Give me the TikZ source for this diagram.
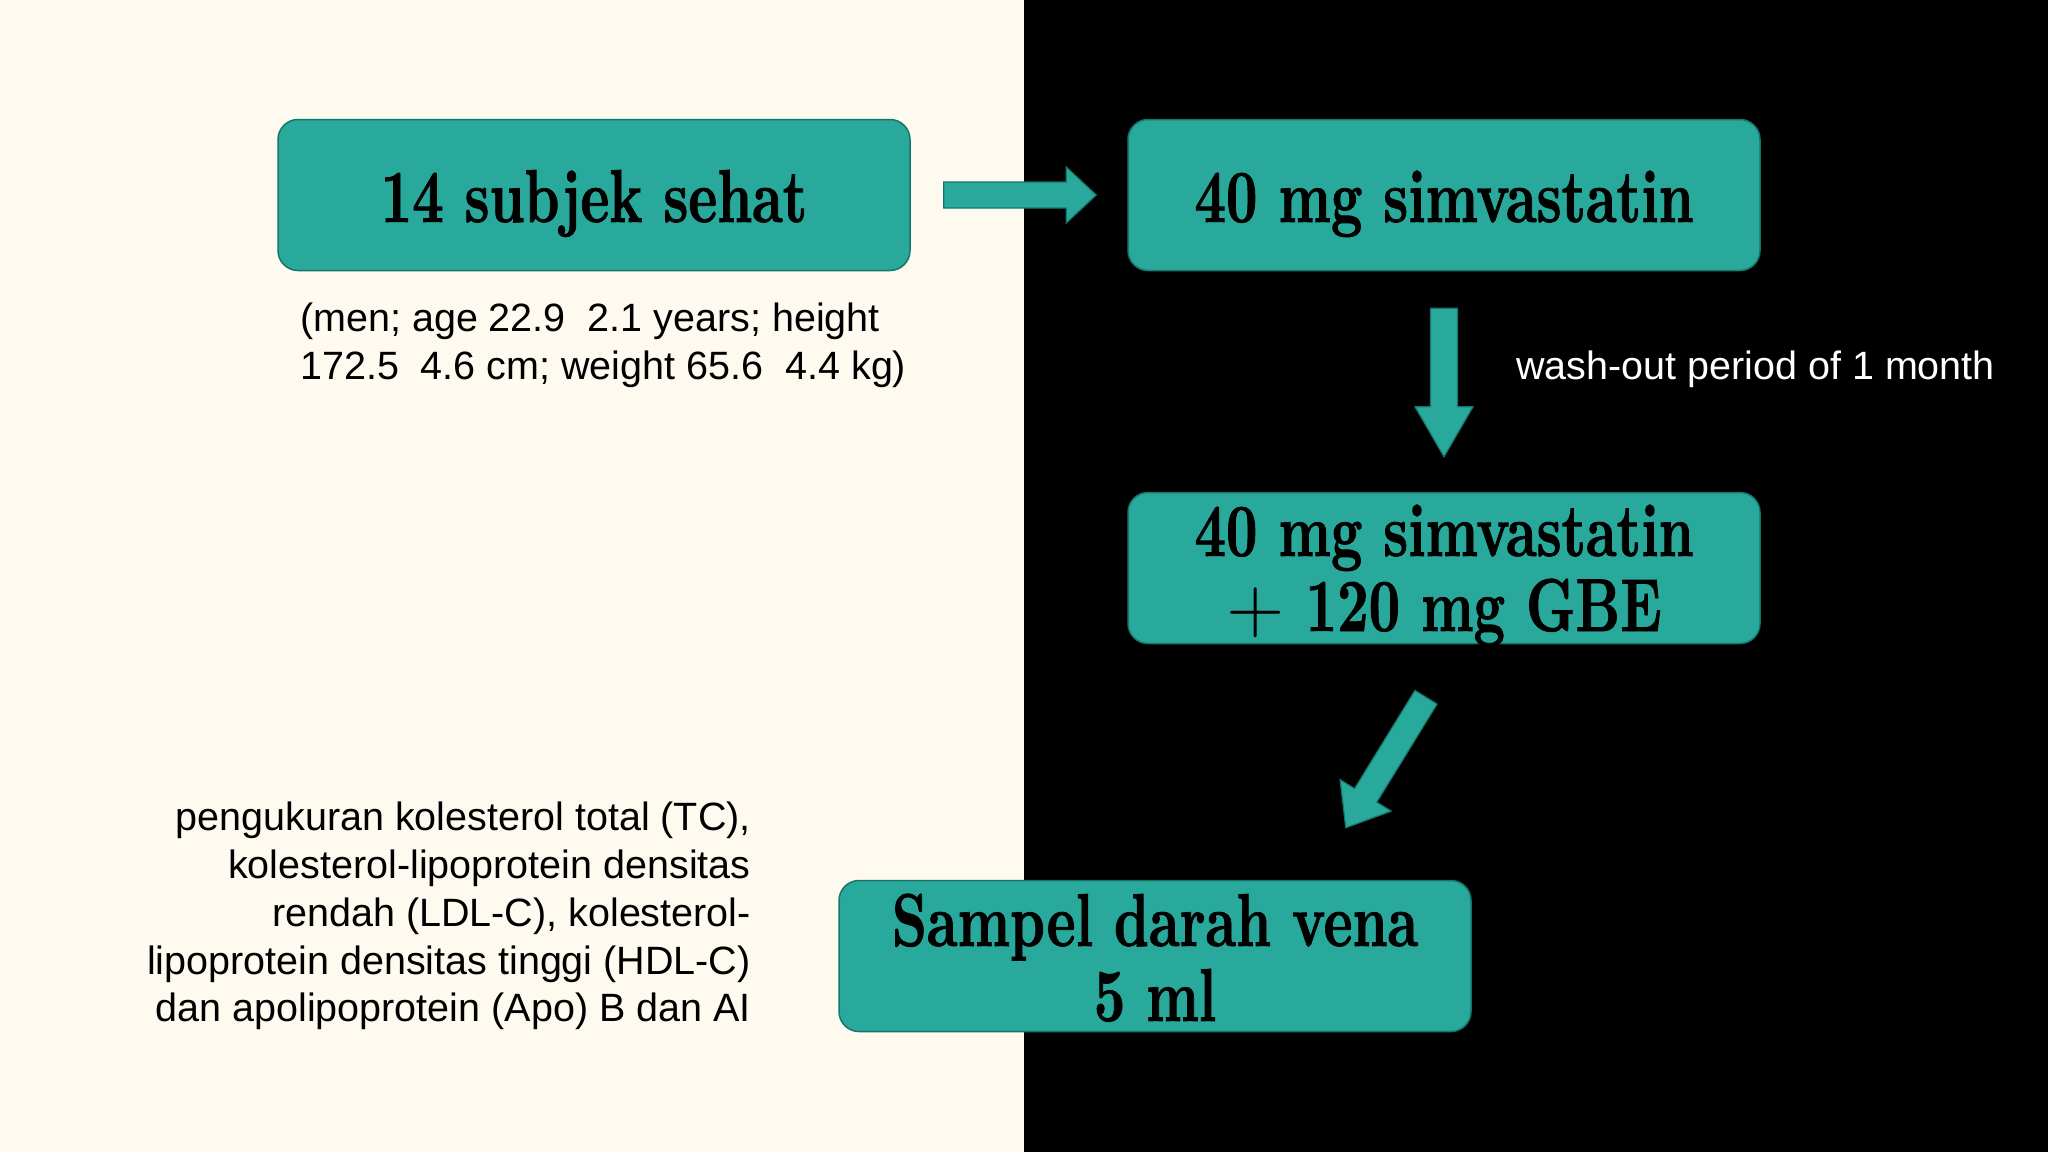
\documentclass[tikz,border=0pt]{standalone}
\usepackage{fontspec}
\setsansfont{Liberation Sans}
\newfontfamily\boxfont[FakeStretch=0.73, FakeBold=1]{lmroman10-bold.otf}
\newfontfamily\plusfont{lmroman10-regular.otf}
\usetikzlibrary{calc}
\definecolor{cream}{HTML}{FFFAF0}
\definecolor{teal1}{HTML}{28A99B}
\definecolor{tealline}{HTML}{17766B}
\tikzset{
  stepbox/.style={draw=tealline, line width=1.5pt, fill=teal1, rounded corners=20pt,
    minimum width=632pt, minimum height=151pt, inner sep=0pt},
  boxtext/.style={anchor=base, align=center, inner sep=0pt,
    font=\boxfont\fontsize{75}{75}\selectfont},
  bodytext/.style={font=\sffamily\fontsize{39.5}{47.8}\selectfont, inner sep=0pt},
  arrowbody/.style={fill=teal1, draw=tealline, line width=1.2pt, line join=miter}
}
% #1 start, #2 end, #3 head length, #4 shaft half width, #5 head half width
\newcommand\blockarrow[5]{%
  \path[arrowbody] let \p1=(#1), \p2=(#2), \n1={atan2(\y2-\y1,\x2-\x1)},
    \n2={veclen(\x2-\x1,\y2-\y1)} in [shift={(\p1)}, rotate=\n1]
    (0,-#4) -- (\n2-#3,-#4) -- (\n2-#3,-#5) -- (\n2,0) -- (\n2-#3,#5) -- (\n2-#3,#4) -- (0,#4) -- cycle;}
\begin{document}
\begin{tikzpicture}[x=1pt,y=-1pt]
\fill[cream] (0,0) rectangle (1024,1152);
\fill[black] (1024,0) rectangle (2048,1152);
\useasboundingbox (0,0) rectangle (2048,1152);

\node[stepbox] (b1) at (594,195) {};
\node[stepbox] (b2) at (1444,195) {};
\node[stepbox] (b3) at (1444,568) {};
\node[stepbox] (b4) at (1155,956) {};

\node[boxtext] (t1) at ($(b1.center)+(0,27)$) {14 subjek sehat};
\node[boxtext] (t2) at ($(b2.center)+(0,27)$) {40 mg simvastatin};
\node[boxtext] (t3) at ($(b3.center)+(0,63)$) {40 mg simvastatin\\{\plusfont +} 120 mg GBE};
\node[boxtext] (t4) at ($(b4.center)+(0,65)$) {Sampel darah vena\\5 ml};

\node[bodytext, anchor=west, align=left] (info) at (300,345)
  {(men; age 22.9\ \ 2.1 years; height\\172.5\ \ 4.6 cm; weight 65.6\ \ 4.4 kg)};
\node[bodytext, anchor=west, text=white] (wash) at (1516,369) {wash-out period of 1 month};
\node[bodytext, anchor=east, align=right] (meas) at (751,916)
  {pengukuran kolesterol total (TC),\\kolesterol-lipoprotein densitas\\rendah (LDL-C), kolesterol-\\lipoprotein densitas tinggi (HDL-C)\\dan apolipoprotein (Apo) B dan AI};

\coordinate (a1s) at ($(b1.east)+(33,0)$);
\coordinate (a1e) at ($(b2.west)+(-31,0)$);
\coordinate (a2s) at ($(b2.south)+(0,37)$);
\coordinate (a2e) at ($(b3.north)+(0,-35)$);
\coordinate (a3s) at ($(b3.south)+(-18,53)$);
\coordinate (a3e) at ($(b4.north east)+(-126,-52)$);
\blockarrow{a1s}{a1e}{30}{13}{28}
\blockarrow{a2s}{a2e}{50}{13.5}{29}
\blockarrow{a3s}{a3e}{38}{13}{30}
\end{tikzpicture}
\end{document}
